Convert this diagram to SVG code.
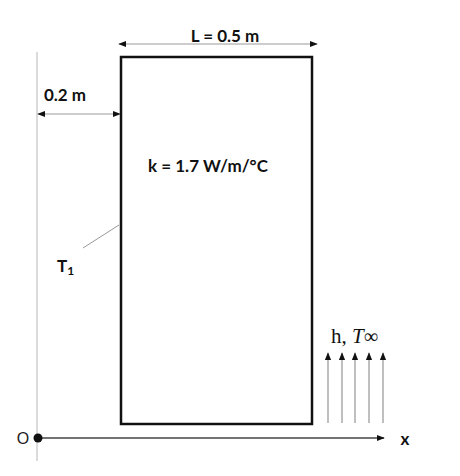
<svg xmlns="http://www.w3.org/2000/svg" width="460" height="476" viewBox="0 0 460 476">
<style>
.lbl{font-family:Lato,"Liberation Sans",Arial,sans-serif;font-weight:bold;font-size:17px;fill:#111}
.dim{stroke:#bbb;stroke-width:1.3;fill:none}
.flow{stroke:#aaa;stroke-width:1.5;fill:none}
</style>
<defs>
<marker id="ah" viewBox="0 0 10 10" refX="9" refY="5" markerWidth="8" markerHeight="8" orient="auto-start-reverse" markerUnits="userSpaceOnUse"><path d="M0,1 L10,5 L0,9 z" fill="#111"/></marker>
</defs>
<rect width="460" height="476" fill="#fff"/>
<g id="wall">
<rect x="121" y="57" width="191" height="367" fill="none" stroke="#111" stroke-width="2.5"/>
</g>
<g id="connectors">
<line x1="37" y1="52" x2="37" y2="461" stroke="#c8c8c8" stroke-width="1.3"/>
<line x1="119" y1="44" x2="317" y2="44" class="dim" marker-start="url(#ah)" marker-end="url(#ah)"/>
<line x1="38" y1="114" x2="120" y2="114" class="dim" marker-start="url(#ah)" marker-end="url(#ah)"/>
<line x1="83" y1="248" x2="119" y2="225" stroke="#999" stroke-width="1"/>
<line x1="37" y1="438" x2="384" y2="438" stroke="#444" stroke-width="1.5" marker-end="url(#ah)"/>
<line x1="328" y1="423" x2="328" y2="353" class="flow" marker-end="url(#ah)"/>
<line x1="342" y1="423" x2="342" y2="353" class="flow" marker-end="url(#ah)"/>
<line x1="355" y1="423" x2="355" y2="353" class="flow" marker-end="url(#ah)"/>
<line x1="369" y1="423" x2="369" y2="353" class="flow" marker-end="url(#ah)"/>
<line x1="383" y1="423" x2="383" y2="353" class="flow" marker-end="url(#ah)"/>
</g>
<g id="origin">
<circle cx="38" cy="438" r="4.5" fill="#111"/>
<text x="23" y="444" font-family="'Liberation Sans',Arial,sans-serif" font-size="16" fill="#222" text-anchor="middle">O</text>
</g>
<g id="xlabel"><text x="405" y="445" class="lbl" text-anchor="middle">x</text></g>
<g id="Llabel"><text x="225" y="42" class="lbl" text-anchor="middle">L = 0.5 m</text></g>
<g id="offset"><text x="65" y="101" class="lbl" text-anchor="middle">0.2 m</text></g>
<g id="klabel"><text x="208" y="172" class="lbl" text-anchor="middle">k = 1.7 W/m/°C</text></g>
<g id="T1"><text x="57" y="272" class="lbl">T<tspan font-size="12" dy="3">1</tspan></text></g>
<g id="conv"><text x="331" y="343" font-family="'Liberation Serif','Times New Roman',serif" font-size="21" fill="#111">h, <tspan font-style="italic">T</tspan><tspan font-size="20">∞</tspan></text></g>
</svg>
